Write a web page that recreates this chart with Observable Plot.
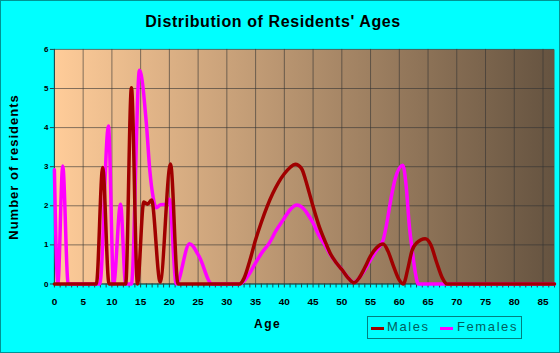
<!DOCTYPE html>
<html>
<head>
<meta charset="utf-8">
<script src="https://cdn.jsdelivr.net/npm/d3@7"></script>
<script src="https://cdn.jsdelivr.net/npm/@observablehq/plot@0.6"></script>
<style>
  html, body { margin: 0; padding: 0; }
  #wrap { position: relative; width: 558px; height: 351px; background: #00FFFF; border: 1px solid #009494; font-family: Arial, "Liberation Sans", sans-serif; overflow: hidden; }
  #chart { position: absolute; left: -1px; top: -1px; }
  .title { position: absolute; left: 0; width: 544px; top: 12px; text-align: center; font-size: 16px; font-weight: bold; letter-spacing: 0.6px; color: #000; }
  .ytitle { position: absolute; left: 12px; top: 166px; transform: translate(-50%, -50%) rotate(-90deg); font-size: 13px; font-weight: bold; letter-spacing: 1px; white-space: nowrap; color: #000; }
  .xtitle { position: absolute; left: 253px; width: 26px; top: 316px; text-align: center; font-size: 12px; font-weight: bold; letter-spacing: 1.5px; color: #000; }
  .legend { position: absolute; left: 366px; top: 315px; width: 153px; height: 21px; border: 1px solid #008080; font-size: 13px; letter-spacing: 1.6px; color: #005f60; }
  .legend span.sw { position: absolute; top: 10px; width: 13px; height: 3px; }
  .legend span.lb { position: absolute; top: 2px; }
</style>
</head>
<body>
<div id="wrap">
  <div id="chart"></div>
  <div class="title">Distribution of Residents' Ages</div>
  <div class="ytitle">Number of residents</div>
  <div class="xtitle">Age</div>
  <div class="legend">
    <span class="sw" style="left:3px;background:#A00000"></span><span class="lb" style="left:19px">Males</span>
    <span class="sw" style="left:72px;background:#FF00FF"></span><span class="lb" style="left:89px">Females</span>
  </div>
</div>
<script>
const maleAges   = [0, 7.3, 8.4, 9.5, 12.4, 13.4, 14.45, 15.55, 16.2, 16.9, 18.4, 20.2, 21.5,
                    32.2, 33, 34, 35, 36, 37, 38, 39, 40, 41, 41.9, 43, 43.7, 44.3, 45, 46, 47.2, 48, 49, 50, 51, 52.1,
                    53, 54, 55, 56, 57.2, 58, 59, 60, 60.7, 61.5, 62.2, 63, 64.5, 65.5, 66.5, 67.5, 68.3, 87];
const maleValues = [0, 0, 2.98, 0, 0, 5.02, 0, 2.1, 2.04, 2.15, 0.05, 3.07, 0,
                    0, 0.15, 0.6, 1.13, 1.58, 1.98, 2.32, 2.6, 2.82, 2.98, 3.06, 2.95, 2.66, 2.35, 1.98, 1.5, 1.05, 0.78, 0.55, 0.37, 0.17, 0.03,
                    0.15, 0.42, 0.72, 0.92, 1.02, 0.85, 0.45, 0.1, 0, 0.4, 0.85, 1.05, 1.16, 1.0, 0.55, 0.15, 0, 0];

const femaleAges   = [0, 0.6, 1.45, 2.4, 7.9, 9.4, 10.3, 11.5, 12.4, 13.4, 14.8, 16.0, 16.6, 17.2, 17.7, 18.5, 19.5, 20.0, 21.2, 23.5, 25.2, 27.4,
                      32.3, 33, 34, 35, 36, 37.4, 38.5, 39.8, 41, 42.2, 43, 44, 45, 46, 47.2, 48, 49, 50, 51, 52.1,
                      53, 54, 55, 56, 57.2, 58, 58.4, 59.3, 60.6, 61.2, 61.7, 62.3, 62.8, 63.3, 87];
const femaleValues = [2.92, 0, 3.02, 0, 0, 4.04, 0, 2.04, 0, 0, 5.47, 4.1, 2.9, 2.2, 1.95, 2.03, 2.04, 2.17, 0, 1.03, 0.7, 0,
                      0, 0.08, 0.28, 0.54, 0.78, 1.05, 1.35, 1.64, 1.9, 2.02, 1.97, 1.8, 1.56, 1.25, 0.96, 0.75, 0.55, 0.37, 0.18, 0.04,
                      0.15, 0.36, 0.62, 0.85, 1.13, 1.7, 2.06, 2.7, 3.04, 2.5, 1.56, 0.8, 0.28, 0, 0];

const xTicks = d3.range(0, 88);
const xGrid = d3.range(0, 90, 5);
const yTicks = [0, 1, 2, 3, 4, 5, 6];

const males = maleAges.map((a, i) => ({age: a, n: maleValues[i]}));
const females = femaleAges.map((a, i) => ({age: a, n: femaleValues[i]}));

const plot = Plot.plot({
  width: 560,
  height: 353,
  marginTop: 49,
  marginBottom: 69,
  marginLeft: 54,
  marginRight: 5,
  style: {background: "transparent", fontFamily: "Arial, 'Liberation Sans', sans-serif", overflow: "visible"},
  x: {domain: [0, 87], axis: null},
  y: {domain: [0, 6], axis: null},
  marks: [
    Plot.frame({fill: "url(#bggrad)", stroke: null}),
    Plot.gridX({ticks: xGrid, stroke: "#333", strokeOpacity: 0.6, strokeWidth: 1}),
    Plot.gridY({ticks: yTicks, stroke: "#333", strokeOpacity: 0.6, strokeWidth: 1}),
    Plot.ruleY([0], {stroke: "#1a4a4a", strokeWidth: 1}),
    Plot.ruleX([0], {stroke: "#1a4a4a", strokeWidth: 1}),
    Plot.axisX({ticks: xTicks, tickSize: 4, tickPadding: 10, tickFormat: d => d % 5 === 0 ? String(d) : "", fontSize: 10, fontWeight: "bold", stroke: "#1a4a4a", fill: "#000", label: null}),
    Plot.axisY({ticks: yTicks, tickSize: 4, tickPadding: 2, tickFormat: d3.format("d"), fontSize: 8, fontWeight: "bold", stroke: "#1a4a4a", fill: "#000", label: null}),
    Plot.line(females, {x: "age", y: "n", stroke: "#FF00FF", strokeWidth: 3.5, curve: "monotone-x"}),
    Plot.line(males, {x: "age", y: "n", stroke: "#A00000", strokeWidth: 3.5, curve: "monotone-x"})
  ]
});

const svg = d3.select(plot);
const defs = svg.insert("defs", ":first-child");
const g = defs.append("linearGradient").attr("id", "bggrad")
  .attr("gradientUnits", "userSpaceOnUse")
  .attr("x1", 54).attr("x2", 555).attr("y1", 0).attr("y2", 0);
g.append("stop").attr("offset", "0%").attr("stop-color", "#FFCC99");
g.append("stop").attr("offset", "100%").attr("stop-color", "#655340");

document.getElementById("chart").appendChild(plot);
</script>
</body>
</html>
